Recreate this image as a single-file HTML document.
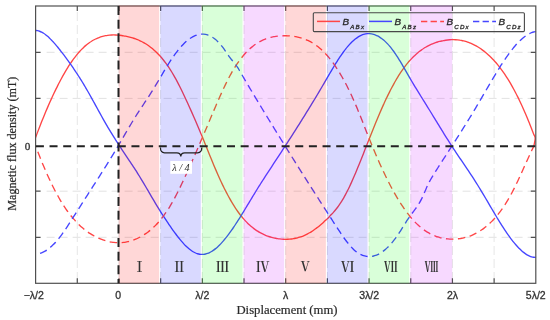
<!DOCTYPE html><html><head><meta charset="utf-8"><title>Magnetic flux density vs displacement</title><style>html,body{margin:0;padding:0;background:#fff;overflow:hidden}svg{display:block}</style></head><body>
<svg width="550" height="320" viewBox="0 0 550 320">
<rect x="0" y="0" width="550" height="320" fill="#fff"/>
<g stroke="#e2e2e2" stroke-width="1" stroke-dasharray="8 5" fill="none"><line x1="46.6" y1="52.3" x2="535.8" y2="52.3"/><line x1="46.6" y1="98.4" x2="535.8" y2="98.4"/><line x1="46.6" y1="191.2" x2="535.8" y2="191.2"/><line x1="46.6" y1="237.3" x2="535.8" y2="237.3"/><line x1="77.3" y1="12.0" x2="77.3" y2="283.3" stroke="#e6e6e6" stroke-dasharray="9 4"/><line x1="119.0" y1="12.0" x2="119.0" y2="283.3" stroke="#e6e6e6" stroke-dasharray="9 4"/><line x1="160.6" y1="12.0" x2="160.6" y2="283.3" stroke="#e6e6e6" stroke-dasharray="9 4"/><line x1="202.3" y1="12.0" x2="202.3" y2="283.3" stroke="#e6e6e6" stroke-dasharray="9 4"/><line x1="244.0" y1="12.0" x2="244.0" y2="283.3" stroke="#e6e6e6" stroke-dasharray="9 4"/><line x1="285.7" y1="12.0" x2="285.7" y2="283.3" stroke="#e6e6e6" stroke-dasharray="9 4"/><line x1="327.4" y1="12.0" x2="327.4" y2="283.3" stroke="#e6e6e6" stroke-dasharray="9 4"/><line x1="369.1" y1="12.0" x2="369.1" y2="283.3" stroke="#e6e6e6" stroke-dasharray="9 4"/><line x1="410.8" y1="12.0" x2="410.8" y2="283.3" stroke="#e6e6e6" stroke-dasharray="9 4"/><line x1="452.4" y1="12.0" x2="452.4" y2="283.3" stroke="#e6e6e6" stroke-dasharray="9 4"/><line x1="494.1" y1="12.0" x2="494.1" y2="283.3" stroke="#e6e6e6" stroke-dasharray="9 4"/></g>
<g fill="none" stroke-width="1.35" stroke-linejoin="round">
<path d="M35.60,137.44 C35.93,136.55 36.93,133.88 37.60,132.13 C38.27,130.38 38.93,128.65 39.60,126.94 C40.27,125.22 40.93,123.53 41.60,121.86 C42.27,120.19 42.93,118.54 43.60,116.91 C44.27,115.27 44.93,113.66 45.60,112.07 C46.27,110.48 46.93,108.91 47.60,107.37 C48.27,105.82 48.93,104.29 49.60,102.79 C50.27,101.29 50.93,99.81 51.60,98.35 C52.27,96.89 52.93,95.45 53.60,94.04 C54.27,92.62 54.93,91.23 55.60,89.86 C56.27,88.50 56.93,87.15 57.60,85.83 C58.27,84.51 58.93,83.21 59.60,81.94 C60.27,80.67 60.93,79.42 61.60,78.20 C62.27,76.97 62.93,75.77 63.60,74.60 C64.27,73.43 64.93,72.28 65.60,71.16 C66.27,70.03 66.93,68.94 67.60,67.87 C68.27,66.80 68.93,65.75 69.60,64.73 C70.27,63.72 70.93,62.72 71.60,61.76 C72.27,60.80 72.93,59.86 73.60,58.95 C74.27,58.04 74.93,57.16 75.60,56.30 C76.27,55.45 76.93,54.62 77.60,53.83 C78.27,53.03 78.93,52.26 79.60,51.52 C80.27,50.78 80.93,50.07 81.60,49.39 C82.27,48.70 82.93,48.05 83.60,47.43 C84.27,46.80 84.93,46.20 85.60,45.63 C86.27,45.06 86.93,44.52 87.60,44.00 C88.27,43.49 88.93,43.00 89.60,42.53 C90.27,42.06 90.93,41.62 91.60,41.21 C92.27,40.79 92.93,40.40 93.60,40.03 C94.27,39.66 94.93,39.31 95.60,38.99 C96.27,38.67 96.93,38.36 97.60,38.08 C98.27,37.80 98.93,37.55 99.60,37.31 C100.27,37.07 100.93,36.85 101.60,36.65 C102.27,36.45 102.93,36.27 103.60,36.11 C104.27,35.95 104.93,35.81 105.60,35.68 C106.27,35.56 106.93,35.45 107.60,35.36 C108.27,35.26 108.93,35.19 109.60,35.13 C110.27,35.07 110.93,35.03 111.60,35.00 C112.27,34.97 112.93,34.96 113.60,34.95 C114.27,34.95 114.93,34.97 115.60,34.99 C116.27,35.02 116.93,35.05 117.60,35.10 C118.27,35.15 118.93,35.22 119.60,35.29 C120.27,35.36 120.93,35.44 121.60,35.54 C122.27,35.63 122.93,35.73 123.60,35.84 C124.27,35.95 124.93,36.07 125.60,36.20 C126.27,36.33 126.93,36.47 127.60,36.62 C128.27,36.76 128.93,36.92 129.60,37.09 C130.27,37.26 130.93,37.44 131.60,37.63 C132.27,37.82 132.93,38.02 133.60,38.24 C134.27,38.45 134.93,38.68 135.60,38.92 C136.27,39.17 136.93,39.42 137.60,39.70 C138.27,39.97 138.93,40.26 139.60,40.56 C140.27,40.86 140.93,41.18 141.60,41.52 C142.27,41.85 142.93,42.21 143.60,42.58 C144.27,42.95 144.93,43.34 145.60,43.75 C146.27,44.16 146.93,44.59 147.60,45.04 C148.27,45.49 148.93,45.95 149.60,46.45 C150.27,46.94 150.93,47.45 151.60,47.98 C152.27,48.52 152.93,49.07 153.60,49.65 C154.27,50.23 154.93,50.84 155.60,51.46 C156.27,52.09 156.93,52.74 157.60,53.42 C158.27,54.10 158.93,54.80 159.60,55.53 C160.27,56.26 160.93,57.02 161.60,57.80 C162.27,58.59 162.93,59.40 163.60,60.24 C164.27,61.08 164.93,61.95 165.60,62.85 C166.27,63.75 166.93,64.67 167.60,65.63 C168.27,66.59 168.93,67.58 169.60,68.60 C170.27,69.63 170.93,70.68 171.60,71.77 C172.27,72.85 172.93,73.97 173.60,75.12 C174.27,76.27 174.93,77.46 175.60,78.67 C176.27,79.88 176.93,81.13 177.60,82.39 C178.27,83.66 178.93,84.95 179.60,86.27 C180.27,87.59 180.93,88.93 181.60,90.29 C182.27,91.65 182.93,93.03 183.60,94.43 C184.27,95.83 184.93,97.25 185.60,98.68 C186.27,100.11 186.93,101.56 187.60,103.01 C188.27,104.47 188.93,105.94 189.60,107.42 C190.27,108.90 190.93,110.39 191.60,111.90 C192.27,113.40 192.93,114.91 193.60,116.43 C194.27,117.96 194.93,119.49 195.60,121.03 C196.27,122.58 196.93,124.14 197.60,125.70 C198.27,127.27 198.93,128.85 199.60,130.44 C200.27,132.03 200.93,133.63 201.60,135.24 C202.27,136.85 202.93,138.48 203.60,140.11 C204.27,141.74 204.93,143.39 205.60,145.03 C206.27,146.67 206.93,148.33 207.60,149.97 C208.27,151.62 208.93,153.27 209.60,154.91 C210.27,156.55 210.93,158.19 211.60,159.81 C212.27,161.43 212.93,163.04 213.60,164.64 C214.27,166.23 214.93,167.81 215.60,169.37 C216.27,170.92 216.93,172.46 217.60,173.97 C218.27,175.48 218.93,176.97 219.60,178.43 C220.27,179.90 220.93,181.34 221.60,182.75 C222.27,184.16 222.93,185.55 223.60,186.91 C224.27,188.27 224.93,189.61 225.60,190.92 C226.27,192.23 226.93,193.51 227.60,194.76 C228.27,196.01 228.93,197.23 229.60,198.42 C230.27,199.62 230.93,200.78 231.60,201.91 C232.27,203.05 232.93,204.15 233.60,205.22 C234.27,206.29 234.93,207.33 235.60,208.33 C236.27,209.34 236.93,210.31 237.60,211.25 C238.27,212.19 238.93,213.10 239.60,213.98 C240.27,214.86 240.93,215.71 241.60,216.53 C242.27,217.36 242.93,218.15 243.60,218.91 C244.27,219.67 244.93,220.41 245.60,221.12 C246.27,221.83 246.93,222.51 247.60,223.16 C248.27,223.82 248.93,224.45 249.60,225.05 C250.27,225.66 250.93,226.24 251.60,226.79 C252.27,227.35 252.93,227.88 253.60,228.39 C254.27,228.90 254.93,229.38 255.60,229.85 C256.27,230.31 256.93,230.75 257.60,231.17 C258.27,231.60 258.93,232.00 259.60,232.38 C260.27,232.76 260.93,233.12 261.60,233.46 C262.27,233.80 262.93,234.13 263.60,234.43 C264.27,234.74 264.93,235.03 265.60,235.30 C266.27,235.57 266.93,235.83 267.60,236.07 C268.27,236.31 268.93,236.53 269.60,236.74 C270.27,236.95 270.93,237.14 271.60,237.33 C272.27,237.51 272.93,237.68 273.60,237.83 C274.27,237.99 274.93,238.13 275.60,238.26 C276.27,238.40 276.93,238.52 277.60,238.62 C278.27,238.73 278.93,238.83 279.60,238.91 C280.27,238.99 280.93,239.06 281.60,239.12 C282.27,239.18 282.93,239.22 283.60,239.26 C284.27,239.29 284.93,239.30 285.60,239.31 C286.27,239.31 286.93,239.30 287.60,239.28 C288.27,239.25 288.93,239.22 289.60,239.16 C290.27,239.11 290.93,239.04 291.60,238.96 C292.27,238.88 292.93,238.78 293.60,238.67 C294.27,238.55 294.93,238.42 295.60,238.28 C296.27,238.14 296.93,237.98 297.60,237.80 C298.27,237.62 298.93,237.43 299.60,237.22 C300.27,237.01 300.93,236.79 301.60,236.54 C302.27,236.30 302.93,236.04 303.60,235.76 C304.27,235.48 304.93,235.19 305.60,234.88 C306.27,234.56 306.93,234.23 307.60,233.88 C308.27,233.54 308.93,233.17 309.60,232.78 C310.27,232.40 310.93,231.99 311.60,231.57 C312.27,231.15 312.93,230.71 313.60,230.25 C314.27,229.79 314.93,229.31 315.60,228.82 C316.27,228.33 316.93,227.82 317.60,227.30 C318.27,226.78 318.93,226.24 319.60,225.69 C320.27,225.13 320.93,224.56 321.60,223.98 C322.27,223.40 322.93,222.81 323.60,222.20 C324.27,221.59 324.93,220.97 325.60,220.34 C326.27,219.70 326.93,219.06 327.60,218.40 C328.27,217.75 328.93,217.08 329.60,216.40 C330.27,215.72 330.93,215.03 331.60,214.32 C332.27,213.61 332.93,212.88 333.60,212.12 C334.27,211.36 334.93,210.58 335.60,209.77 C336.27,208.95 336.93,208.11 337.60,207.22 C338.27,206.33 338.93,205.41 339.60,204.44 C340.27,203.47 340.93,202.46 341.60,201.39 C342.27,200.33 342.93,199.21 343.60,198.05 C344.27,196.89 344.93,195.68 345.60,194.43 C346.27,193.17 346.93,191.87 347.60,190.54 C348.27,189.21 348.93,187.83 349.60,186.42 C350.27,185.01 350.93,183.57 351.60,182.10 C352.27,180.62 352.93,179.11 353.60,177.58 C354.27,176.05 354.93,174.49 355.60,172.92 C356.27,171.34 356.93,169.73 357.60,168.11 C358.27,166.50 358.93,164.85 359.60,163.20 C360.27,161.55 360.93,159.89 361.60,158.21 C362.27,156.54 362.93,154.85 363.60,153.16 C364.27,151.47 364.93,149.77 365.60,148.08 C366.27,146.38 366.93,144.68 367.60,142.99 C368.27,141.29 368.93,139.60 369.60,137.91 C370.27,136.23 370.93,134.55 371.60,132.88 C372.27,131.21 372.93,129.55 373.60,127.90 C374.27,126.26 374.93,124.62 375.60,123.00 C376.27,121.38 376.93,119.77 377.60,118.18 C378.27,116.59 378.93,115.02 379.60,113.46 C380.27,111.91 380.93,110.37 381.60,108.86 C382.27,107.35 382.93,105.86 383.60,104.39 C384.27,102.93 384.93,101.48 385.60,100.07 C386.27,98.65 386.93,97.26 387.60,95.89 C388.27,94.53 388.93,93.19 389.60,91.87 C390.27,90.56 390.93,89.27 391.60,88.01 C392.27,86.75 392.93,85.51 393.60,84.31 C394.27,83.10 394.93,81.92 395.60,80.77 C396.27,79.61 396.93,78.49 397.60,77.39 C398.27,76.30 398.93,75.23 399.60,74.19 C400.27,73.15 400.93,72.14 401.60,71.16 C402.27,70.18 402.93,69.23 403.60,68.31 C404.27,67.39 404.93,66.50 405.60,65.63 C406.27,64.77 406.93,63.93 407.60,63.13 C408.27,62.32 408.93,61.54 409.60,60.78 C410.27,60.03 410.93,59.30 411.60,58.60 C412.27,57.90 412.93,57.22 413.60,56.57 C414.27,55.91 414.93,55.29 415.60,54.68 C416.27,54.08 416.93,53.50 417.60,52.94 C418.27,52.38 418.93,51.84 419.60,51.33 C420.27,50.81 420.93,50.32 421.60,49.85 C422.27,49.38 422.93,48.93 423.60,48.50 C424.27,48.06 424.93,47.65 425.60,47.26 C426.27,46.87 426.93,46.49 427.60,46.14 C428.27,45.78 428.93,45.44 429.60,45.12 C430.27,44.80 430.93,44.50 431.60,44.21 C432.27,43.92 432.93,43.65 433.60,43.39 C434.27,43.14 434.93,42.89 435.60,42.67 C436.27,42.44 436.93,42.22 437.60,42.02 C438.27,41.82 438.93,41.64 439.60,41.46 C440.27,41.29 440.93,41.12 441.60,40.97 C442.27,40.82 442.93,40.68 443.60,40.56 C444.27,40.43 444.93,40.32 445.60,40.22 C446.27,40.12 446.93,40.03 447.60,39.96 C448.27,39.88 448.93,39.82 449.60,39.77 C450.27,39.73 450.93,39.69 451.60,39.67 C452.27,39.66 452.93,39.65 453.60,39.66 C454.27,39.67 454.93,39.69 455.60,39.73 C456.27,39.77 456.93,39.82 457.60,39.89 C458.27,39.95 458.93,40.04 459.60,40.13 C460.27,40.23 460.93,40.35 461.60,40.47 C462.27,40.60 462.93,40.75 463.60,40.91 C464.27,41.07 464.93,41.24 465.60,41.44 C466.27,41.63 466.93,41.84 467.60,42.06 C468.27,42.29 468.93,42.53 469.60,42.79 C470.27,43.05 470.93,43.33 471.60,43.62 C472.27,43.91 472.93,44.22 473.60,44.55 C474.27,44.88 474.93,45.23 475.60,45.59 C476.27,45.96 476.93,46.34 477.60,46.74 C478.27,47.14 478.93,47.56 479.60,47.99 C480.27,48.43 480.93,48.89 481.60,49.36 C482.27,49.84 482.93,50.33 483.60,50.84 C484.27,51.36 484.93,51.89 485.60,52.44 C486.27,53.00 486.93,53.57 487.60,54.16 C488.27,54.75 488.93,55.37 489.60,56.00 C490.27,56.64 490.93,57.29 491.60,57.97 C492.27,58.65 492.93,59.35 493.60,60.07 C494.27,60.79 494.93,61.54 495.60,62.30 C496.27,63.07 496.93,63.86 497.60,64.67 C498.27,65.49 498.93,66.32 499.60,67.18 C500.27,68.04 500.93,68.93 501.60,69.84 C502.27,70.75 502.93,71.68 503.60,72.64 C504.27,73.60 504.93,74.58 505.60,75.59 C506.27,76.60 506.93,77.63 507.60,78.70 C508.27,79.76 508.93,80.84 509.60,81.96 C510.27,83.07 510.93,84.21 511.60,85.38 C512.27,86.55 512.93,87.75 513.60,88.97 C514.27,90.19 514.93,91.45 515.60,92.73 C516.27,94.01 516.93,95.32 517.60,96.65 C518.27,97.99 518.93,99.35 519.60,100.74 C520.27,102.14 520.93,103.56 521.60,105.00 C522.27,106.45 522.93,107.92 523.60,109.43 C524.27,110.93 524.93,112.46 525.60,114.01 C526.27,115.57 526.93,117.15 527.60,118.76 C528.27,120.36 528.93,122.00 529.60,123.66 C530.27,125.32 530.93,127.01 531.60,128.72 C532.27,130.44 533.00,132.36 533.60,133.94 C534.20,135.52 535.17,136.16 535.20,138.22 C535.23,140.28 534.03,144.95 533.80,146.30" stroke="#ff4646"/>
<path d="M35.60,30.49 C35.93,30.53 36.93,30.58 37.60,30.71 C38.27,30.84 38.93,31.03 39.60,31.26 C40.27,31.50 40.93,31.79 41.60,32.13 C42.27,32.46 42.93,32.84 43.60,33.27 C44.27,33.69 44.93,34.16 45.60,34.67 C46.27,35.17 46.93,35.72 47.60,36.30 C48.27,36.88 48.93,37.50 49.60,38.14 C50.27,38.78 50.93,39.46 51.60,40.16 C52.27,40.86 52.93,41.59 53.60,42.33 C54.27,43.08 54.93,43.85 55.60,44.64 C56.27,45.42 56.93,46.23 57.60,47.05 C58.27,47.86 58.93,48.69 59.60,49.53 C60.27,50.37 60.93,51.22 61.60,52.08 C62.27,52.93 62.93,53.80 63.60,54.67 C64.27,55.55 64.93,56.43 65.60,57.32 C66.27,58.22 66.93,59.12 67.60,60.03 C68.27,60.95 68.93,61.87 69.60,62.80 C70.27,63.74 70.93,64.68 71.60,65.64 C72.27,66.59 72.93,67.56 73.60,68.54 C74.27,69.52 74.93,70.51 75.60,71.51 C76.27,72.51 76.93,73.53 77.60,74.55 C78.27,75.58 78.93,76.62 79.60,77.68 C80.27,78.73 80.93,79.80 81.60,80.88 C82.27,81.97 82.93,83.06 83.60,84.17 C84.27,85.28 84.93,86.41 85.60,87.55 C86.27,88.69 86.93,89.84 87.60,91.01 C88.27,92.17 88.93,93.35 89.60,94.54 C90.27,95.72 90.93,96.92 91.60,98.12 C92.27,99.32 92.93,100.53 93.60,101.74 C94.27,102.95 94.93,104.16 95.60,105.38 C96.27,106.59 96.93,107.81 97.60,109.03 C98.27,110.24 98.93,111.45 99.60,112.66 C100.27,113.87 100.93,115.08 101.60,116.27 C102.27,117.47 102.93,118.66 103.60,119.84 C104.27,121.03 104.93,122.20 105.60,123.36 C106.27,124.52 106.93,125.66 107.60,126.80 C108.27,127.93 108.93,129.05 109.60,130.16 C110.27,131.26 110.93,132.36 111.60,133.44 C112.27,134.53 112.93,135.60 113.60,136.66 C114.27,137.73 114.93,138.78 115.60,139.83 C116.27,140.87 116.93,141.91 117.60,142.94 C118.27,143.97 118.93,145.00 119.60,146.02 C120.27,147.04 120.93,148.05 121.60,149.06 C122.27,150.07 122.93,151.07 123.60,152.08 C124.27,153.08 124.93,154.08 125.60,155.08 C126.27,156.07 126.93,157.07 127.60,158.07 C128.27,159.07 128.93,160.06 129.60,161.06 C130.27,162.06 130.93,163.06 131.60,164.07 C132.27,165.08 132.93,166.09 133.60,167.11 C134.27,168.13 134.93,169.15 135.60,170.19 C136.27,171.22 136.93,172.26 137.60,173.32 C138.27,174.37 138.93,175.43 139.60,176.51 C140.27,177.59 140.93,178.68 141.60,179.79 C142.27,180.89 142.93,182.00 143.60,183.13 C144.27,184.25 144.93,185.38 145.60,186.51 C146.27,187.65 146.93,188.79 147.60,189.93 C148.27,191.08 148.93,192.22 149.60,193.37 C150.27,194.51 150.93,195.66 151.60,196.79 C152.27,197.93 152.93,199.07 153.60,200.20 C154.27,201.32 154.93,202.45 155.60,203.56 C156.27,204.67 156.93,205.77 157.60,206.86 C158.27,207.96 158.93,209.04 159.60,210.11 C160.27,211.19 160.93,212.25 161.60,213.30 C162.27,214.35 162.93,215.40 163.60,216.43 C164.27,217.46 164.93,218.48 165.60,219.49 C166.27,220.50 166.93,221.50 167.60,222.49 C168.27,223.47 168.93,224.45 169.60,225.41 C170.27,226.38 170.93,227.33 171.60,228.27 C172.27,229.21 172.93,230.14 173.60,231.05 C174.27,231.97 174.93,232.87 175.60,233.76 C176.27,234.65 176.93,235.53 177.60,236.39 C178.27,237.25 178.93,238.10 179.60,238.93 C180.27,239.75 180.93,240.56 181.60,241.34 C182.27,242.12 182.93,242.89 183.60,243.61 C184.27,244.34 184.93,245.04 185.60,245.71 C186.27,246.37 186.93,247.01 187.60,247.61 C188.27,248.20 188.93,248.77 189.60,249.30 C190.27,249.82 190.93,250.31 191.60,250.77 C192.27,251.22 192.93,251.63 193.60,252.00 C194.27,252.38 194.93,252.71 195.60,253.00 C196.27,253.29 196.93,253.54 197.60,253.75 C198.27,253.95 198.93,254.11 199.60,254.23 C200.27,254.34 200.93,254.41 201.60,254.44 C202.27,254.46 202.93,254.43 203.60,254.36 C204.27,254.29 204.93,254.18 205.60,254.02 C206.27,253.86 206.93,253.66 207.60,253.41 C208.27,253.17 208.93,252.88 209.60,252.56 C210.27,252.23 210.93,251.87 211.60,251.47 C212.27,251.06 212.93,250.62 213.60,250.15 C214.27,249.68 214.93,249.16 215.60,248.62 C216.27,248.08 216.93,247.50 217.60,246.89 C218.27,246.28 218.93,245.64 219.60,244.97 C220.27,244.30 220.93,243.60 221.60,242.88 C222.27,242.15 222.93,241.39 223.60,240.61 C224.27,239.84 224.93,239.03 225.60,238.20 C226.27,237.37 226.93,236.52 227.60,235.65 C228.27,234.77 228.93,233.88 229.60,232.96 C230.27,232.05 230.93,231.11 231.60,230.16 C232.27,229.21 232.93,228.24 233.60,227.25 C234.27,226.27 234.93,225.27 235.60,224.25 C236.27,223.24 236.93,222.21 237.60,221.17 C238.27,220.13 238.93,219.08 239.60,218.02 C240.27,216.96 240.93,215.89 241.60,214.81 C242.27,213.73 242.93,212.65 243.60,211.56 C244.27,210.47 244.93,209.37 245.60,208.27 C246.27,207.17 246.93,206.06 247.60,204.96 C248.27,203.85 248.93,202.75 249.60,201.64 C250.27,200.53 250.93,199.43 251.60,198.32 C252.27,197.22 252.93,196.12 253.60,195.02 C254.27,193.93 254.93,192.83 255.60,191.75 C256.27,190.66 256.93,189.59 257.60,188.51 C258.27,187.44 258.93,186.38 259.60,185.32 C260.27,184.27 260.93,183.22 261.60,182.17 C262.27,181.12 262.93,180.09 263.60,179.05 C264.27,178.01 264.93,176.98 265.60,175.96 C266.27,174.93 266.93,173.91 267.60,172.88 C268.27,171.86 268.93,170.84 269.60,169.83 C270.27,168.81 270.93,167.79 271.60,166.78 C272.27,165.76 272.93,164.74 273.60,163.73 C274.27,162.71 274.93,161.70 275.60,160.68 C276.27,159.66 276.93,158.65 277.60,157.63 C278.27,156.61 278.93,155.59 279.60,154.57 C280.27,153.55 280.93,152.53 281.60,151.51 C282.27,150.49 282.93,149.46 283.60,148.44 C284.27,147.42 284.93,146.39 285.60,145.36 C286.27,144.34 286.93,143.31 287.60,142.28 C288.27,141.25 288.93,140.22 289.60,139.18 C290.27,138.15 290.93,137.12 291.60,136.08 C292.27,135.04 292.93,134.00 293.60,132.96 C294.27,131.92 294.93,130.88 295.60,129.83 C296.27,128.79 296.93,127.74 297.60,126.69 C298.27,125.64 298.93,124.58 299.60,123.53 C300.27,122.47 300.93,121.41 301.60,120.35 C302.27,119.29 302.93,118.23 303.60,117.16 C304.27,116.09 304.93,115.02 305.60,113.95 C306.27,112.88 306.93,111.80 307.60,110.72 C308.27,109.64 308.93,108.56 309.60,107.47 C310.27,106.38 310.93,105.29 311.60,104.20 C312.27,103.10 312.93,102.01 313.60,100.90 C314.27,99.80 314.93,98.70 315.60,97.59 C316.27,96.48 316.93,95.36 317.60,94.24 C318.27,93.12 318.93,92.00 319.60,90.87 C320.27,89.75 320.93,88.61 321.60,87.48 C322.27,86.34 322.93,85.20 323.60,84.06 C324.27,82.91 324.93,81.76 325.60,80.61 C326.27,79.46 326.93,78.31 327.60,77.16 C328.27,76.01 328.93,74.87 329.60,73.73 C330.27,72.59 330.93,71.45 331.60,70.33 C332.27,69.21 332.93,68.09 333.60,66.98 C334.27,65.88 334.93,64.79 335.60,63.71 C336.27,62.64 336.93,61.57 337.60,60.53 C338.27,59.49 338.93,58.46 339.60,57.46 C340.27,56.46 340.93,55.48 341.60,54.52 C342.27,53.57 342.93,52.64 343.60,51.73 C344.27,50.83 344.93,49.95 345.60,49.11 C346.27,48.26 346.93,47.44 347.60,46.65 C348.27,45.87 348.93,45.11 349.60,44.38 C350.27,43.66 350.93,42.97 351.60,42.31 C352.27,41.65 352.93,41.02 353.60,40.43 C354.27,39.84 354.93,39.29 355.60,38.77 C356.27,38.25 356.93,37.77 357.60,37.33 C358.27,36.89 358.93,36.48 359.60,36.12 C360.27,35.76 360.93,35.44 361.60,35.15 C362.27,34.87 362.93,34.63 363.60,34.43 C364.27,34.23 364.93,34.07 365.60,33.95 C366.27,33.82 366.93,33.74 367.60,33.70 C368.27,33.66 368.93,33.65 369.60,33.69 C370.27,33.72 370.93,33.80 371.60,33.91 C372.27,34.03 372.93,34.18 373.60,34.37 C374.27,34.56 374.93,34.79 375.60,35.05 C376.27,35.32 376.93,35.63 377.60,35.97 C378.27,36.31 378.93,36.69 379.60,37.11 C380.27,37.53 380.93,37.98 381.60,38.47 C382.27,38.97 382.93,39.50 383.60,40.06 C384.27,40.63 384.93,41.23 385.60,41.87 C386.27,42.51 386.93,43.18 387.60,43.89 C388.27,44.61 388.93,45.35 389.60,46.14 C390.27,46.92 390.93,47.74 391.60,48.59 C392.27,49.45 392.93,50.34 393.60,51.26 C394.27,52.18 394.93,53.15 395.60,54.14 C396.27,55.12 396.93,56.15 397.60,57.19 C398.27,58.23 398.93,59.31 399.60,60.40 C400.27,61.48 400.93,62.60 401.60,63.72 C402.27,64.84 402.93,65.98 403.60,67.13 C404.27,68.27 404.93,69.43 405.60,70.59 C406.27,71.75 406.93,72.92 407.60,74.08 C408.27,75.24 408.93,76.40 409.60,77.55 C410.27,78.70 410.93,79.85 411.60,80.99 C412.27,82.12 412.93,83.25 413.60,84.36 C414.27,85.48 414.93,86.58 415.60,87.68 C416.27,88.78 416.93,89.87 417.60,90.95 C418.27,92.04 418.93,93.11 419.60,94.19 C420.27,95.27 420.93,96.34 421.60,97.41 C422.27,98.48 422.93,99.54 423.60,100.61 C424.27,101.68 424.93,102.74 425.60,103.81 C426.27,104.88 426.93,105.95 427.60,107.03 C428.27,108.10 428.93,109.18 429.60,110.26 C430.27,111.34 430.93,112.43 431.60,113.52 C432.27,114.60 432.93,115.69 433.60,116.78 C434.27,117.87 434.93,118.96 435.60,120.05 C436.27,121.14 436.93,122.23 437.60,123.32 C438.27,124.41 438.93,125.50 439.60,126.59 C440.27,127.68 440.93,128.76 441.60,129.84 C442.27,130.92 442.93,132.00 443.60,133.08 C444.27,134.15 444.93,135.23 445.60,136.29 C446.27,137.36 446.93,138.42 447.60,139.48 C448.27,140.53 448.93,141.58 449.60,142.62 C450.27,143.67 450.93,144.70 451.60,145.73 C452.27,146.76 452.93,147.78 453.60,148.79 C454.27,149.81 454.93,150.81 455.60,151.81 C456.27,152.81 456.93,153.81 457.60,154.80 C458.27,155.79 458.93,156.78 459.60,157.77 C460.27,158.75 460.93,159.74 461.60,160.72 C462.27,161.70 462.93,162.69 463.60,163.67 C464.27,164.65 464.93,165.64 465.60,166.62 C466.27,167.61 466.93,168.60 467.60,169.59 C468.27,170.59 468.93,171.58 469.60,172.59 C470.27,173.59 470.93,174.60 471.60,175.61 C472.27,176.63 472.93,177.65 473.60,178.68 C474.27,179.71 474.93,180.75 475.60,181.80 C476.27,182.85 476.93,183.91 477.60,184.99 C478.27,186.06 478.93,187.14 479.60,188.23 C480.27,189.33 480.93,190.43 481.60,191.54 C482.27,192.65 482.93,193.77 483.60,194.89 C484.27,196.01 484.93,197.14 485.60,198.27 C486.27,199.40 486.93,200.54 487.60,201.68 C488.27,202.81 488.93,203.95 489.60,205.09 C490.27,206.22 490.93,207.36 491.60,208.49 C492.27,209.63 492.93,210.76 493.60,211.88 C494.27,213.01 494.93,214.13 495.60,215.24 C496.27,216.36 496.93,217.47 497.60,218.56 C498.27,219.66 498.93,220.75 499.60,221.83 C500.27,222.91 500.93,223.98 501.60,225.03 C502.27,226.08 502.93,227.13 503.60,228.15 C504.27,229.18 504.93,230.19 505.60,231.18 C506.27,232.18 506.93,233.16 507.60,234.11 C508.27,235.07 508.93,236.01 509.60,236.93 C510.27,237.85 510.93,238.74 511.60,239.62 C512.27,240.49 512.93,241.34 513.60,242.16 C514.27,242.99 514.93,243.79 515.60,244.56 C516.27,245.33 516.93,246.08 517.60,246.79 C518.27,247.50 518.93,248.19 519.60,248.85 C520.27,249.50 520.93,250.12 521.60,250.71 C522.27,251.30 522.93,251.86 523.60,252.38 C524.27,252.90 524.93,253.38 525.60,253.83 C526.27,254.28 526.93,254.69 527.60,255.06 C528.27,255.43 528.93,255.76 529.60,256.05 C530.27,256.33 530.93,256.58 531.60,256.79 C532.27,256.99 532.93,257.15 533.60,257.26 C534.27,257.37 535.23,257.43 535.60,257.46 C535.97,257.50 535.77,257.47 535.80,257.47" stroke="#4646ff"/>
<path d="M35.80,146.61 C36.13,147.48 37.13,150.09 37.80,151.80 C38.47,153.51 39.13,155.20 39.80,156.87 C40.47,158.53 41.13,160.17 41.80,161.79 C42.47,163.41 43.13,165.00 43.80,166.57 C44.47,168.15 45.13,169.69 45.80,171.21 C46.47,172.74 47.13,174.23 47.80,175.70 C48.47,177.18 49.13,178.62 49.80,180.04 C50.47,181.46 51.13,182.85 51.80,184.22 C52.47,185.59 53.13,186.93 53.80,188.24 C54.47,189.55 55.13,190.84 55.80,192.09 C56.47,193.35 57.13,194.58 57.80,195.78 C58.47,196.98 59.13,198.15 59.80,199.29 C60.47,200.43 61.13,201.54 61.80,202.62 C62.47,203.70 63.13,204.76 63.80,205.78 C64.47,206.81 65.13,207.80 65.80,208.77 C66.47,209.74 67.13,210.69 67.80,211.60 C68.47,212.52 69.13,213.41 69.80,214.27 C70.47,215.14 71.13,215.98 71.80,216.79 C72.47,217.60 73.13,218.39 73.80,219.16 C74.47,219.92 75.13,220.66 75.80,221.38 C76.47,222.10 77.13,222.79 77.80,223.47 C78.47,224.14 79.13,224.79 79.80,225.42 C80.47,226.05 81.13,226.65 81.80,227.24 C82.47,227.83 83.13,228.39 83.80,228.94 C84.47,229.48 85.13,230.01 85.80,230.52 C86.47,231.03 87.13,231.51 87.80,231.98 C88.47,232.46 89.13,232.91 89.80,233.34 C90.47,233.78 91.13,234.19 91.80,234.60 C92.47,235.00 93.13,235.38 93.80,235.75 C94.47,236.12 95.13,236.47 95.80,236.81 C96.47,237.15 97.13,237.47 97.80,237.78 C98.47,238.09 99.13,238.39 99.80,238.67 C100.47,238.95 101.13,239.22 101.80,239.47 C102.47,239.72 103.13,239.96 103.80,240.18 C104.47,240.41 105.13,240.62 105.80,240.81 C106.47,241.00 107.13,241.18 107.80,241.35 C108.47,241.51 109.13,241.66 109.80,241.80 C110.47,241.93 111.13,242.05 111.80,242.16 C112.47,242.26 113.13,242.35 113.80,242.43 C114.47,242.50 115.13,242.56 115.80,242.60 C116.47,242.65 117.13,242.67 117.80,242.69 C118.47,242.70 119.13,242.70 119.80,242.68 C120.47,242.66 121.13,242.62 121.80,242.57 C122.47,242.52 123.13,242.46 123.80,242.37 C124.47,242.29 125.13,242.19 125.80,242.08 C126.47,241.97 127.13,241.84 127.80,241.69 C128.47,241.54 129.13,241.38 129.80,241.20 C130.47,241.02 131.13,240.82 131.80,240.61 C132.47,240.40 133.13,240.17 133.80,239.92 C134.47,239.68 135.13,239.41 135.80,239.14 C136.47,238.86 137.13,238.56 137.80,238.25 C138.47,237.93 139.13,237.60 139.80,237.26 C140.47,236.91 141.13,236.54 141.80,236.16 C142.47,235.78 143.13,235.38 143.80,234.96 C144.47,234.54 145.13,234.10 145.80,233.64 C146.47,233.18 147.13,232.70 147.80,232.20 C148.47,231.70 149.13,231.18 149.80,230.63 C150.47,230.09 151.13,229.52 151.80,228.93 C152.47,228.34 153.13,227.73 153.80,227.09 C154.47,226.45 155.13,225.79 155.80,225.10 C156.47,224.41 157.13,223.70 157.80,222.96 C158.47,222.22 159.13,221.45 159.80,220.66 C160.47,219.87 161.13,219.04 161.80,218.19 C162.47,217.34 163.13,216.47 163.80,215.56 C164.47,214.65 165.13,213.71 165.80,212.74 C166.47,211.77 167.13,210.77 167.80,209.74 C168.47,208.71 169.13,207.65 169.80,206.55 C170.47,205.45 171.13,204.32 171.80,203.17 C172.47,202.01 173.13,200.81 173.80,199.60 C174.47,198.38 175.13,197.13 175.80,195.86 C176.47,194.59 177.13,193.29 177.80,191.97 C178.47,190.65 179.13,189.31 179.80,187.95 C180.47,186.59 181.13,185.20 181.80,183.81 C182.47,182.41 183.13,180.99 183.80,179.56 C184.47,178.13 185.13,176.68 185.80,175.22 C186.47,173.77 187.13,172.29 187.80,170.81 C188.47,169.34 189.13,167.85 189.80,166.35 C190.47,164.86 191.13,163.35 191.80,161.85 C192.47,160.34 193.13,158.83 193.80,157.31 C194.47,155.79 195.13,154.27 195.80,152.74 C196.47,151.22 197.13,149.69 197.80,148.15 C198.47,146.61 199.13,145.07 199.80,143.53 C200.47,141.98 201.13,140.44 201.80,138.88 C202.47,137.33 203.13,135.77 203.80,134.21 C204.47,132.65 205.13,131.09 205.80,129.52 C206.47,127.95 207.13,126.38 207.80,124.80 C208.47,123.22 209.13,121.64 209.80,120.06 C210.47,118.48 211.13,116.90 211.80,115.33 C212.47,113.75 213.13,112.17 213.80,110.61 C214.47,109.04 215.13,107.48 215.80,105.93 C216.47,104.38 217.13,102.83 217.80,101.31 C218.47,99.78 219.13,98.27 219.80,96.77 C220.47,95.27 221.13,93.79 221.80,92.33 C222.47,90.88 223.13,89.44 223.80,88.02 C224.47,86.61 225.13,85.22 225.80,83.85 C226.47,82.49 227.13,81.15 227.80,79.85 C228.47,78.55 229.13,77.27 229.80,76.03 C230.47,74.79 231.13,73.59 231.80,72.42 C232.47,71.25 233.13,70.12 233.80,69.02 C234.47,67.93 235.13,66.87 235.80,65.84 C236.47,64.81 237.13,63.81 237.80,62.85 C238.47,61.89 239.13,60.96 239.80,60.06 C240.47,59.17 241.13,58.30 241.80,57.47 C242.47,56.63 243.13,55.83 243.80,55.05 C244.47,54.28 245.13,53.53 245.80,52.82 C246.47,52.10 247.13,51.41 247.80,50.75 C248.47,50.09 249.13,49.46 249.80,48.85 C250.47,48.25 251.13,47.67 251.80,47.11 C252.47,46.56 253.13,46.03 253.80,45.53 C254.47,45.02 255.13,44.54 255.80,44.08 C256.47,43.63 257.13,43.19 257.80,42.78 C258.47,42.37 259.13,41.98 259.80,41.62 C260.47,41.25 261.13,40.90 261.80,40.58 C262.47,40.25 263.13,39.95 263.80,39.66 C264.47,39.37 265.13,39.11 265.80,38.86 C266.47,38.61 267.13,38.38 267.80,38.16 C268.47,37.95 269.13,37.75 269.80,37.57 C270.47,37.39 271.13,37.23 271.80,37.08 C272.47,36.93 273.13,36.79 273.80,36.67 C274.47,36.55 275.13,36.44 275.80,36.35 C276.47,36.26 277.13,36.18 277.80,36.11 C278.47,36.04 279.13,35.98 279.80,35.93 C280.47,35.89 281.13,35.85 281.80,35.83 C282.47,35.80 283.13,35.79 283.80,35.78 C284.47,35.77 285.13,35.77 285.80,35.78 C286.47,35.79 287.13,35.81 287.80,35.84 C288.47,35.87 289.13,35.90 289.80,35.95 C290.47,36.00 291.13,36.05 291.80,36.12 C292.47,36.19 293.13,36.27 293.80,36.36 C294.47,36.46 295.13,36.56 295.80,36.68 C296.47,36.80 297.13,36.93 297.80,37.07 C298.47,37.22 299.13,37.38 299.80,37.55 C300.47,37.73 301.13,37.91 301.80,38.12 C302.47,38.32 303.13,38.54 303.80,38.78 C304.47,39.02 305.13,39.27 305.80,39.55 C306.47,39.82 307.13,40.11 307.80,40.42 C308.47,40.73 309.13,41.05 309.80,41.40 C310.47,41.75 311.13,42.11 311.80,42.50 C312.47,42.89 313.13,43.30 313.80,43.72 C314.47,44.15 315.13,44.60 315.80,45.08 C316.47,45.55 317.13,46.05 317.80,46.57 C318.47,47.08 319.13,47.63 319.80,48.19 C320.47,48.76 321.13,49.35 321.80,49.97 C322.47,50.58 323.13,51.22 323.80,51.89 C324.47,52.56 325.13,53.25 325.80,53.97 C326.47,54.69 327.13,55.44 327.80,56.21 C328.47,56.99 329.13,57.79 329.80,58.62 C330.47,59.44 331.13,60.30 331.80,61.18 C332.47,62.06 333.13,62.97 333.80,63.91 C334.47,64.85 335.13,65.81 335.80,66.81 C336.47,67.80 337.13,68.82 337.80,69.87 C338.47,70.92 339.13,71.99 339.80,73.10 C340.47,74.20 341.13,75.34 341.80,76.50 C342.47,77.66 343.13,78.85 343.80,80.07 C344.47,81.28 345.13,82.53 345.80,83.80 C346.47,85.08 347.13,86.38 347.80,87.72 C348.47,89.05 349.13,90.41 349.80,91.80 C350.47,93.19 351.13,94.61 351.80,96.06 C352.47,97.51 353.13,98.99 353.80,100.50 C354.47,102.00 355.13,103.54 355.80,105.11 C356.47,106.67 357.13,108.27 357.80,109.89 C358.47,111.51 359.13,113.16 359.80,114.82 C360.47,116.48 361.13,118.16 361.80,119.84 C362.47,121.53 363.13,123.23 363.80,124.92 C364.47,126.62 365.13,128.32 365.80,130.02 C366.47,131.71 367.13,133.41 367.80,135.09 C368.47,136.77 369.13,138.44 369.80,140.09 C370.47,141.74 371.13,143.38 371.80,145.00 C372.47,146.62 373.13,148.22 373.80,149.81 C374.47,151.40 375.13,152.97 375.80,154.53 C376.47,156.08 377.13,157.62 377.80,159.14 C378.47,160.66 379.13,162.17 379.80,163.65 C380.47,165.13 381.13,166.60 381.80,168.05 C382.47,169.49 383.13,170.92 383.80,172.33 C384.47,173.73 385.13,175.12 385.80,176.49 C386.47,177.86 387.13,179.21 387.80,180.53 C388.47,181.86 389.13,183.17 389.80,184.45 C390.47,185.74 391.13,187.00 391.80,188.24 C392.47,189.48 393.13,190.71 393.80,191.91 C394.47,193.10 395.13,194.28 395.80,195.44 C396.47,196.59 397.13,197.72 397.80,198.83 C398.47,199.94 399.13,201.03 399.80,202.09 C400.47,203.15 401.13,204.19 401.80,205.20 C402.47,206.22 403.13,207.21 403.80,208.18 C404.47,209.14 405.13,210.09 405.80,211.00 C406.47,211.92 407.13,212.81 407.80,213.68 C408.47,214.55 409.13,215.39 409.80,216.21 C410.47,217.02 411.13,217.81 411.80,218.58 C412.47,219.34 413.13,220.08 413.80,220.80 C414.47,221.51 415.13,222.20 415.80,222.87 C416.47,223.54 417.13,224.18 417.80,224.80 C418.47,225.42 419.13,226.01 419.80,226.58 C420.47,227.16 421.13,227.71 421.80,228.23 C422.47,228.76 423.13,229.27 423.80,229.75 C424.47,230.23 425.13,230.70 425.80,231.14 C426.47,231.58 427.13,232.00 427.80,232.40 C428.47,232.80 429.13,233.18 429.80,233.54 C430.47,233.90 431.13,234.24 431.80,234.56 C432.47,234.88 433.13,235.19 433.80,235.47 C434.47,235.75 435.13,236.02 435.80,236.27 C436.47,236.51 437.13,236.74 437.80,236.96 C438.47,237.17 439.13,237.37 439.80,237.54 C440.47,237.72 441.13,237.89 441.80,238.03 C442.47,238.18 443.13,238.31 443.80,238.42 C444.47,238.54 445.13,238.64 445.80,238.73 C446.47,238.81 447.13,238.88 447.80,238.94 C448.47,238.99 449.13,239.04 449.80,239.07 C450.47,239.09 451.13,239.11 451.80,239.11 C452.47,239.12 453.13,239.10 453.80,239.08 C454.47,239.06 455.13,239.03 455.80,238.98 C456.47,238.93 457.13,238.88 457.80,238.80 C458.47,238.73 459.13,238.65 459.80,238.55 C460.47,238.46 461.13,238.35 461.80,238.22 C462.47,238.10 463.13,237.96 463.80,237.81 C464.47,237.66 465.13,237.49 465.80,237.31 C466.47,237.13 467.13,236.93 467.80,236.72 C468.47,236.51 469.13,236.28 469.80,236.04 C470.47,235.79 471.13,235.53 471.80,235.26 C472.47,234.98 473.13,234.69 473.80,234.38 C474.47,234.07 475.13,233.74 475.80,233.40 C476.47,233.05 477.13,232.69 477.80,232.31 C478.47,231.92 479.13,231.52 479.80,231.11 C480.47,230.69 481.13,230.25 481.80,229.79 C482.47,229.33 483.13,228.86 483.80,228.36 C484.47,227.86 485.13,227.35 485.80,226.81 C486.47,226.27 487.13,225.71 487.80,225.13 C488.47,224.55 489.13,223.94 489.80,223.32 C490.47,222.69 491.13,222.04 491.80,221.37 C492.47,220.70 493.13,220.00 493.80,219.28 C494.47,218.56 495.13,217.81 495.80,217.04 C496.47,216.27 497.13,215.47 497.80,214.64 C498.47,213.82 499.13,212.97 499.80,212.09 C500.47,211.21 501.13,210.30 501.80,209.36 C502.47,208.42 503.13,207.46 503.80,206.46 C504.47,205.47 505.13,204.44 505.80,203.38 C506.47,202.33 507.13,201.24 507.80,200.12 C508.47,199.00 509.13,197.85 509.80,196.66 C510.47,195.48 511.13,194.26 511.80,193.01 C512.47,191.76 513.13,190.47 513.80,189.15 C514.47,187.84 515.13,186.49 515.80,185.11 C516.47,183.74 517.13,182.34 517.80,180.93 C518.47,179.51 519.13,178.07 519.80,176.62 C520.47,175.18 521.13,173.71 521.80,172.24 C522.47,170.77 523.13,169.29 523.80,167.81 C524.47,166.34 525.13,164.85 525.80,163.37 C526.47,161.90 527.13,160.42 527.80,158.96 C528.47,157.50 529.13,156.04 529.80,154.60 C530.47,153.16 531.13,151.74 531.80,150.33 C532.47,148.93 533.47,146.89 533.80,146.20" stroke="#ff4646" stroke-dasharray="7.5 4.5" stroke-dashoffset="6.5"/>
<path d="M35.60,254.24 C35.93,254.20 36.93,254.11 37.60,253.98 C38.27,253.86 38.93,253.70 39.60,253.51 C40.27,253.31 40.93,253.08 41.60,252.82 C42.27,252.55 42.93,252.25 43.60,251.91 C44.27,251.58 44.93,251.21 45.60,250.80 C46.27,250.39 46.93,249.95 47.60,249.48 C48.27,249.01 48.93,248.50 49.60,247.96 C50.27,247.42 50.93,246.85 51.60,246.24 C52.27,245.64 52.93,245.00 53.60,244.33 C54.27,243.66 54.93,242.96 55.60,242.23 C56.27,241.49 56.93,240.73 57.60,239.94 C58.27,239.14 58.93,238.32 59.60,237.46 C60.27,236.61 60.93,235.72 61.60,234.81 C62.27,233.90 62.93,232.96 63.60,232.00 C64.27,231.04 64.93,230.06 65.60,229.07 C66.27,228.07 66.93,227.06 67.60,226.04 C68.27,225.02 68.93,223.98 69.60,222.94 C70.27,221.90 70.93,220.85 71.60,219.81 C72.27,218.76 72.93,217.71 73.60,216.66 C74.27,215.62 74.93,214.57 75.60,213.53 C76.27,212.48 76.93,211.44 77.60,210.39 C78.27,209.35 78.93,208.31 79.60,207.27 C80.27,206.22 80.93,205.18 81.60,204.14 C82.27,203.10 82.93,202.06 83.60,201.02 C84.27,199.98 84.93,198.94 85.60,197.90 C86.27,196.86 86.93,195.82 87.60,194.78 C88.27,193.74 88.93,192.70 89.60,191.66 C90.27,190.62 90.93,189.58 91.60,188.53 C92.27,187.49 92.93,186.45 93.60,185.41 C94.27,184.37 94.93,183.33 95.60,182.29 C96.27,181.25 96.93,180.20 97.60,179.16 C98.27,178.11 98.93,177.07 99.60,176.02 C100.27,174.97 100.93,173.92 101.60,172.87 C102.27,171.82 102.93,170.76 103.60,169.71 C104.27,168.65 104.93,167.59 105.60,166.53 C106.27,165.46 106.93,164.40 107.60,163.32 C108.27,162.25 108.93,161.18 109.60,160.10 C110.27,159.02 110.93,157.94 111.60,156.85 C112.27,155.76 112.93,154.66 113.60,153.56 C114.27,152.46 114.93,151.36 115.60,150.25 C116.27,149.14 116.93,148.02 117.60,146.90 C118.27,145.77 118.93,144.64 119.60,143.51 C120.27,142.37 120.93,141.23 121.60,140.08 C122.27,138.94 122.93,137.79 123.60,136.64 C124.27,135.49 124.93,134.34 125.60,133.19 C126.27,132.05 126.93,130.90 127.60,129.76 C128.27,128.62 128.93,127.49 129.60,126.36 C130.27,125.23 130.93,124.11 131.60,123.01 C132.27,121.90 132.93,120.80 133.60,119.71 C134.27,118.63 134.93,117.56 135.60,116.50 C136.27,115.44 136.93,114.40 137.60,113.36 C138.27,112.33 138.93,111.31 139.60,110.29 C140.27,109.27 140.93,108.27 141.60,107.26 C142.27,106.25 142.93,105.25 143.60,104.25 C144.27,103.24 144.93,102.24 145.60,101.23 C146.27,100.22 146.93,99.21 147.60,98.19 C148.27,97.17 148.93,96.15 149.60,95.11 C150.27,94.07 150.93,93.02 151.60,91.96 C152.27,90.90 152.93,89.82 153.60,88.73 C154.27,87.64 154.93,86.53 155.60,85.42 C156.27,84.31 156.93,83.19 157.60,82.06 C158.27,80.94 158.93,79.81 159.60,78.68 C160.27,77.55 160.93,76.42 161.60,75.29 C162.27,74.17 162.93,73.04 163.60,71.93 C164.27,70.81 164.93,69.70 165.60,68.60 C166.27,67.50 166.93,66.41 167.60,65.34 C168.27,64.27 168.93,63.21 169.60,62.17 C170.27,61.14 170.93,60.11 171.60,59.12 C172.27,58.12 172.93,57.14 173.60,56.19 C174.27,55.24 174.93,54.32 175.60,53.42 C176.27,52.52 176.93,51.65 177.60,50.80 C178.27,49.96 178.93,49.14 179.60,48.35 C180.27,47.56 180.93,46.80 181.60,46.07 C182.27,45.34 182.93,44.64 183.60,43.97 C184.27,43.30 184.93,42.65 185.60,42.05 C186.27,41.44 186.93,40.86 187.60,40.32 C188.27,39.77 188.93,39.26 189.60,38.79 C190.27,38.31 190.93,37.87 191.60,37.46 C192.27,37.06 192.93,36.69 193.60,36.35 C194.27,36.02 194.93,35.72 195.60,35.46 C196.27,35.20 196.93,34.98 197.60,34.79 C198.27,34.61 198.93,34.46 199.60,34.35 C200.27,34.25 200.93,34.18 201.60,34.15 C202.27,34.12 202.93,34.13 203.60,34.18 C204.27,34.23 204.93,34.32 205.60,34.46 C206.27,34.59 206.93,34.76 207.60,34.98 C208.27,35.19 208.93,35.45 209.60,35.75 C210.27,36.05 210.93,36.39 211.60,36.77 C212.27,37.15 212.93,37.58 213.60,38.05 C214.27,38.52 214.93,39.04 215.60,39.59 C216.27,40.15 216.93,40.75 217.60,41.40 C218.27,42.05 218.93,42.74 219.60,43.48 C220.27,44.22 220.93,45.00 221.60,45.83 C222.27,46.66 222.93,47.55 223.60,48.46 C224.27,49.37 224.93,50.33 225.60,51.29 C226.27,52.24 226.93,53.24 227.60,54.20 C228.27,55.16 228.93,56.13 229.60,57.05 C230.27,57.97 230.93,58.87 231.60,59.72 C232.27,60.57 232.93,61.33 233.60,62.14 C234.27,62.96 234.93,63.72 235.60,64.60 C236.27,65.48 236.93,66.42 237.60,67.45 C238.27,68.47 238.93,69.61 239.60,70.73 C240.27,71.85 240.93,73.03 241.60,74.18 C242.27,75.33 242.93,76.48 243.60,77.62 C244.27,78.76 244.93,79.90 245.60,81.04 C246.27,82.17 246.93,83.30 247.60,84.43 C248.27,85.56 248.93,86.68 249.60,87.80 C250.27,88.92 250.93,90.04 251.60,91.16 C252.27,92.27 252.93,93.38 253.60,94.50 C254.27,95.61 254.93,96.72 255.60,97.82 C256.27,98.93 256.93,100.04 257.60,101.14 C258.27,102.24 258.93,103.35 259.60,104.45 C260.27,105.55 260.93,106.65 261.60,107.75 C262.27,108.85 262.93,109.95 263.60,111.04 C264.27,112.14 264.93,113.24 265.60,114.33 C266.27,115.42 266.93,116.52 267.60,117.61 C268.27,118.70 268.93,119.79 269.60,120.88 C270.27,121.97 270.93,123.06 271.60,124.14 C272.27,125.23 272.93,126.32 273.60,127.40 C274.27,128.48 274.93,129.57 275.60,130.65 C276.27,131.73 276.93,132.81 277.60,133.89 C278.27,134.97 278.93,136.05 279.60,137.13 C280.27,138.21 280.93,139.28 281.60,140.36 C282.27,141.43 282.93,142.51 283.60,143.58 C284.27,144.65 284.93,145.73 285.60,146.80 C286.27,147.87 286.93,148.94 287.60,150.01 C288.27,151.08 288.93,152.14 289.60,153.21 C290.27,154.28 290.93,155.34 291.60,156.41 C292.27,157.47 292.93,158.54 293.60,159.60 C294.27,160.66 294.93,161.72 295.60,162.78 C296.27,163.85 296.93,164.91 297.60,165.96 C298.27,167.02 298.93,168.08 299.60,169.14 C300.27,170.19 300.93,171.25 301.60,172.31 C302.27,173.36 302.93,174.41 303.60,175.47 C304.27,176.52 304.93,177.57 305.60,178.62 C306.27,179.68 306.93,180.73 307.60,181.78 C308.27,182.82 308.93,183.87 309.60,184.92 C310.27,185.97 310.93,187.02 311.60,188.06 C312.27,189.11 312.93,190.15 313.60,191.20 C314.27,192.24 314.93,193.28 315.60,194.33 C316.27,195.37 316.93,196.41 317.60,197.45 C318.27,198.49 318.93,199.53 319.60,200.57 C320.27,201.61 320.93,202.65 321.60,203.69 C322.27,204.73 322.93,205.76 323.60,206.80 C324.27,207.84 324.93,208.87 325.60,209.91 C326.27,210.94 326.93,211.98 327.60,213.01 C328.27,214.04 328.93,215.08 329.60,216.11 C330.27,217.14 330.93,218.17 331.60,219.20 C332.27,220.23 332.93,221.26 333.60,222.29 C334.27,223.32 334.93,224.35 335.60,225.38 C336.27,226.40 336.93,227.43 337.60,228.45 C338.27,229.46 338.93,230.48 339.60,231.48 C340.27,232.48 340.93,233.48 341.60,234.45 C342.27,235.42 342.93,236.39 343.60,237.33 C344.27,238.27 344.93,239.19 345.60,240.09 C346.27,240.98 346.93,241.86 347.60,242.70 C348.27,243.54 348.93,244.36 349.60,245.14 C350.27,245.93 350.93,246.68 351.60,247.39 C352.27,248.10 352.93,248.78 353.60,249.41 C354.27,250.05 354.93,250.64 355.60,251.19 C356.27,251.73 356.93,252.24 357.60,252.69 C358.27,253.15 358.93,253.57 359.60,253.94 C360.27,254.32 360.93,254.65 361.60,254.94 C362.27,255.23 362.93,255.48 363.60,255.69 C364.27,255.90 364.93,256.07 365.60,256.20 C366.27,256.33 366.93,256.42 367.60,256.48 C368.27,256.54 368.93,256.55 369.60,256.54 C370.27,256.52 370.93,256.46 371.60,256.37 C372.27,256.28 372.93,256.15 373.60,255.99 C374.27,255.82 374.93,255.62 375.60,255.39 C376.27,255.15 376.93,254.88 377.60,254.57 C378.27,254.27 378.93,253.93 379.60,253.55 C380.27,253.17 380.93,252.76 381.60,252.32 C382.27,251.87 382.93,251.39 383.60,250.88 C384.27,250.36 384.93,249.81 385.60,249.23 C386.27,248.65 386.93,248.03 387.60,247.38 C388.27,246.74 388.93,246.05 389.60,245.34 C390.27,244.62 390.93,243.88 391.60,243.10 C392.27,242.32 392.93,241.50 393.60,240.66 C394.27,239.81 394.93,238.94 395.60,238.03 C396.27,237.12 396.93,236.18 397.60,235.21 C398.27,234.24 398.93,233.23 399.60,232.21 C400.27,231.20 400.93,230.15 401.60,229.10 C402.27,228.05 402.93,226.99 403.60,225.93 C404.27,224.88 404.93,223.81 405.60,222.77 C406.27,221.73 406.93,220.70 407.60,219.69 C408.27,218.69 408.93,217.70 409.60,216.75 C410.27,215.80 410.93,214.90 411.60,214.00 C412.27,213.10 412.93,212.24 413.60,211.35 C414.27,210.47 414.93,209.59 415.60,208.67 C416.27,207.74 416.93,206.80 417.60,205.79 C418.27,204.78 418.93,203.73 419.60,202.58 C420.27,201.44 420.93,200.23 421.60,198.90 C422.27,197.57 422.93,196.11 423.60,194.62 C424.27,193.12 424.93,191.48 425.60,189.95 C426.27,188.41 426.93,186.83 427.60,185.40 C428.27,183.97 428.93,182.64 429.60,181.38 C430.27,180.11 430.93,178.95 431.60,177.81 C432.27,176.67 432.93,175.61 433.60,174.54 C434.27,173.46 434.93,172.43 435.60,171.39 C436.27,170.34 436.93,169.30 437.60,168.26 C438.27,167.22 438.93,166.18 439.60,165.14 C440.27,164.10 440.93,163.07 441.60,162.03 C442.27,161.00 442.93,159.96 443.60,158.93 C444.27,157.89 444.93,156.86 445.60,155.82 C446.27,154.79 446.93,153.76 447.60,152.72 C448.27,151.69 448.93,150.65 449.60,149.62 C450.27,148.58 450.93,147.55 451.60,146.51 C452.27,145.47 452.93,144.44 453.60,143.40 C454.27,142.36 454.93,141.32 455.60,140.27 C456.27,139.23 456.93,138.19 457.60,137.14 C458.27,136.09 458.93,135.04 459.60,133.99 C460.27,132.94 460.93,131.89 461.60,130.83 C462.27,129.77 462.93,128.72 463.60,127.65 C464.27,126.59 464.93,125.52 465.60,124.45 C466.27,123.38 466.93,122.31 467.60,121.23 C468.27,120.15 468.93,119.07 469.60,117.99 C470.27,116.90 470.93,115.81 471.60,114.71 C472.27,113.62 472.93,112.52 473.60,111.41 C474.27,110.31 474.93,109.20 475.60,108.08 C476.27,106.96 476.93,105.84 477.60,104.71 C478.27,103.59 478.93,102.45 479.60,101.32 C480.27,100.18 480.93,99.04 481.60,97.89 C482.27,96.75 482.93,95.60 483.60,94.45 C484.27,93.30 484.93,92.15 485.60,91.01 C486.27,89.86 486.93,88.71 487.60,87.57 C488.27,86.42 488.93,85.28 489.60,84.14 C490.27,83.00 490.93,81.86 491.60,80.73 C492.27,79.61 492.93,78.48 493.60,77.36 C494.27,76.25 494.93,75.14 495.60,74.04 C496.27,72.94 496.93,71.84 497.60,70.76 C498.27,69.68 498.93,68.61 499.60,67.55 C500.27,66.49 500.93,65.44 501.60,64.41 C502.27,63.38 502.93,62.36 503.60,61.35 C504.27,60.35 504.93,59.36 505.60,58.39 C506.27,57.42 506.93,56.46 507.60,55.53 C508.27,54.59 508.93,53.67 509.60,52.77 C510.27,51.88 510.93,51.00 511.60,50.14 C512.27,49.29 512.93,48.45 513.60,47.64 C514.27,46.84 514.93,46.05 515.60,45.29 C516.27,44.53 516.93,43.79 517.60,43.08 C518.27,42.37 518.93,41.69 519.60,41.03 C520.27,40.38 520.93,39.75 521.60,39.16 C522.27,38.56 522.93,37.99 523.60,37.46 C524.27,36.92 524.93,36.42 525.60,35.95 C526.27,35.48 526.93,35.04 527.60,34.64 C528.27,34.24 528.93,33.87 529.60,33.55 C530.27,33.22 530.93,32.92 531.60,32.67 C532.27,32.41 532.93,32.19 533.60,32.02 C534.27,31.84 535.23,31.68 535.60,31.60 C535.97,31.53 535.77,31.58 535.80,31.58" stroke="#4646ff" stroke-dasharray="7.5 4.5" stroke-dashoffset="7.5"/>
</g>
<path d="M77.28,283.30v-5M77.28,6.00v5M118.97,283.30v-5M118.97,6.00v5M160.65,283.30v-5M160.65,6.00v5M202.33,283.30v-5M202.33,6.00v5M244.02,283.30v-5M244.02,6.00v5M285.70,283.30v-5M285.70,6.00v5M327.38,283.30v-5M327.38,6.00v5M369.07,283.30v-5M369.07,6.00v5M410.75,283.30v-5M410.75,6.00v5M452.43,283.30v-5M452.43,6.00v5M494.12,283.30v-5M494.12,6.00v5M35.60,52.30h5M535.80,52.30h-5M35.60,98.40h5M535.80,98.40h-5M35.60,191.20h5M535.80,191.20h-5M35.60,237.30h5M535.80,237.30h-5" stroke="#505050" stroke-width="1.2" fill="none"/>
<rect x="35.60" y="6.00" width="500.20" height="277.30" stroke="#505050" stroke-width="1.2" fill="none"/>
<rect x="118.67" y="5.30" width="40.48" height="278.00" fill="rgba(255,0,0,0.155)"/><rect x="160.35" y="5.30" width="40.48" height="278.00" fill="rgba(0,0,255,0.15)"/><rect x="202.03" y="5.30" width="40.48" height="278.00" fill="rgba(0,255,0,0.15)"/><rect x="243.72" y="5.30" width="40.48" height="278.00" fill="rgba(200,0,255,0.15)"/><rect x="285.40" y="5.30" width="40.48" height="278.00" fill="rgba(255,0,0,0.155)"/><rect x="327.08" y="5.30" width="40.48" height="278.00" fill="rgba(0,0,255,0.15)"/><rect x="368.77" y="5.30" width="40.48" height="278.00" fill="rgba(0,255,0,0.15)"/><rect x="410.45" y="5.30" width="41.78" height="278.00" fill="rgba(200,0,255,0.15)"/>
<g stroke="#222" stroke-width="2" fill="none">
<line x1="35.9" y1="146.3" x2="535.8" y2="146.3" stroke-dasharray="8 5.65"/>
<line x1="118.5" y1="6.0" x2="118.5" y2="283.3" stroke-dasharray="9 4.65"/>
</g>
<g font-family="Noto Serif CJK SC, serif" font-weight="600" font-size="13.5" fill="#333" text-anchor="middle"><text x="139.50" y="272.4">Ⅰ</text><text x="179.20" y="272.4">Ⅱ</text><text x="222.50" y="272.4">Ⅲ</text><text x="262.70" y="272.4">Ⅳ</text><text x="305.20" y="272.4">Ⅴ</text><text x="347.50" y="272.4">Ⅵ</text><text x="390.70" y="272.4">Ⅶ</text><text x="431.50" y="272.4">Ⅷ</text></g>
<path d="M160.4,147.6 q0,5.2 4.2,5.2 h12.3 q3.6,0 3.9,3.6 q0.3,-3.6 3.9,-3.6 h12.9 q4.2,0 4.2,-5.2" stroke="#222" stroke-width="1.25" fill="none"/>
<rect x="170.3" y="161" width="21.7" height="12.8" fill="#fff"/>
<text x="181" y="171.2" font-family="Liberation Serif, serif" font-style="italic" font-size="10.2" fill="#2a2a2a" text-anchor="middle">λ / 4</text>
<rect x="313.3" y="12.7" width="211.1" height="18.9" rx="1" fill="none" stroke="#484848" stroke-width="1.1"/>
<line x1="317.0" y1="21.4" x2="340.0" y2="21.4" stroke="#ff4646" stroke-width="1.5"/><text x="342.6" y="24.6" font-family="Liberation Sans, sans-serif" font-style="italic" font-size="9.9" fill="#2a2a2a" stroke="#2a2a2a" stroke-width="0.35">B<tspan font-size="6.2" dy="4.1" dx="1.1" letter-spacing="1.2" stroke-width="0.3">ABx</tspan></text><line x1="369.0" y1="21.4" x2="392.0" y2="21.4" stroke="#4646ff" stroke-width="1.5"/><text x="394.6" y="24.6" font-family="Liberation Sans, sans-serif" font-style="italic" font-size="9.9" fill="#2a2a2a" stroke="#2a2a2a" stroke-width="0.35">B<tspan font-size="6.2" dy="4.1" dx="1.1" letter-spacing="1.2" stroke-width="0.3">ABz</tspan></text><line x1="421.0" y1="21.4" x2="444.0" y2="21.4" stroke="#ff4646" stroke-width="1.5" stroke-dasharray="6.3 3.3"/><text x="446.6" y="24.6" font-family="Liberation Sans, sans-serif" font-style="italic" font-size="9.9" fill="#2a2a2a" stroke="#2a2a2a" stroke-width="0.35">B<tspan font-size="6.2" dy="4.1" dx="1.1" letter-spacing="1.2" stroke-width="0.3">CDx</tspan></text><line x1="473.0" y1="21.4" x2="496.0" y2="21.4" stroke="#4646ff" stroke-width="1.5" stroke-dasharray="6.3 3.3"/><text x="498.6" y="24.6" font-family="Liberation Sans, sans-serif" font-style="italic" font-size="9.9" fill="#2a2a2a" stroke="#2a2a2a" stroke-width="0.35">B<tspan font-size="6.2" dy="4.1" dx="1.1" letter-spacing="1.2" stroke-width="0.3">CDz</tspan></text>
<g font-family="Liberation Sans, sans-serif" font-size="10.5" fill="#333" stroke="#333" stroke-width="0.3" text-anchor="middle"><text x="33.80" y="298.8">−λ/2</text><text x="118.27" y="298.8">0</text><text x="202.33" y="298.8">λ/2</text><text x="285.70" y="298.8">λ</text><text x="369.07" y="298.8">3λ/2</text><text x="452.43" y="298.8">2λ</text><text x="535.80" y="298.8">5λ/2</text></g>
<text x="27.6" y="149.8" font-family="Liberation Serif, serif" font-size="11.2" fill="#333" stroke="#333" stroke-width="0.3" text-anchor="middle">0</text>
<text x="287" y="313.8" font-family="Liberation Serif, serif" font-size="12.7" fill="#2a2a2a" stroke="#2a2a2a" stroke-width="0.2" text-anchor="middle">Displacement (mm)</text>
<text transform="translate(16.1,143.7) rotate(-90)" x="0" y="0" font-family="Liberation Serif, serif" font-size="12.1" fill="#2a2a2a" stroke="#2a2a2a" stroke-width="0.2" text-anchor="middle">Magnetic flux density (mT)</text>
</svg></body></html>
